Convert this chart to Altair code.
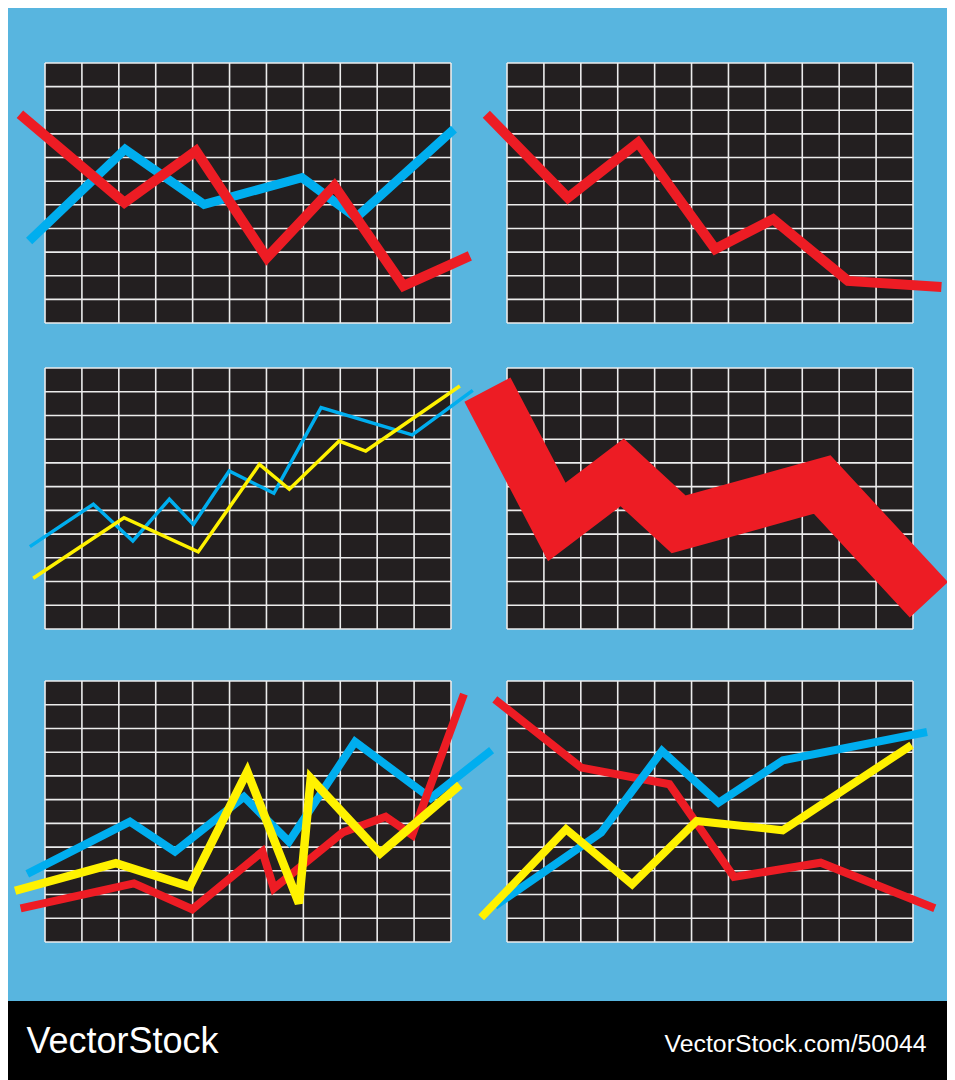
import altair as alt
import pandas as pd

BG = "#58b5df"
PANEL = "#231f20"
GRID = "#ececec"
RED = "#ed1c24"
BLUE = "#00aeef"
YELLOW = "#fff200"

grid_ticks = list(range(12))

# Panel 1 (top left)
p1_red_x = [-0.68, 2.15, 4.09, 6.01, 7.84, 9.71, 11.51]
p1_red_y = [8.83, 5.09, 7.28, 2.76, 5.80, 1.57, 2.84]
p1_blue_x = [-0.43, 2.17, 4.31, 6.96, 8.43, 11.08]
p1_blue_y = [3.47, 7.35, 5.02, 6.15, 4.46, 8.20]

# Panel 2 (top right)
p2_red_x = [-0.56, 1.65, 3.55, 5.64, 7.21, 9.24, 11.77]
p2_red_y = [8.83, 5.30, 7.63, 3.13, 4.39, 1.78, 1.52]

# Panel 3 (middle left)
p3_blue_x = [-0.41, 1.31, 2.38, 3.37, 4.02, 4.99, 6.20, 7.48, 9.95, 11.59]
p3_blue_y = [3.47, 5.26, 3.71, 5.47, 4.41, 6.66, 5.72, 9.33, 8.18, 10.06]
p3_yellow_x = [-0.32, 2.14, 4.15, 5.81, 6.62, 7.97, 8.69, 11.24]
p3_yellow_y = [2.14, 4.69, 3.25, 6.94, 5.89, 7.92, 7.50, 10.24]

# Panel 4 (middle right)
p4_red_x = [-0.53, 1.35, 3.12, 4.65, 8.54, 11.43]
p4_red_y = [10.09, 4.51, 6.60, 4.41, 6.09, 1.23]

# Panel 5 (bottom left)
p5_blue_x = [-0.48, 2.30, 3.52, 5.39, 6.61, 8.40, 10.45, 12.10]
p5_blue_y = [2.87, 5.07, 3.81, 6.12, 4.23, 8.44, 6.06, 8.09]
p5_red_x = [-0.66, 2.41, 3.99, 5.89, 6.20, 8.06, 9.23, 9.95, 11.35]
p5_red_y = [1.42, 2.47, 1.38, 3.81, 2.26, 4.61, 5.28, 4.51, 10.45]
p5_yellow_x = [-0.81, 1.92, 3.92, 5.48, 6.88, 7.20, 9.08, 11.24]
p5_yellow_y = [2.16, 3.32, 2.33, 7.18, 1.63, 6.90, 3.74, 6.62]

# Panel 6 (bottom right)
p6_red_x = [-0.33, 2.01, 4.40, 6.15, 8.50, 11.59]
p6_red_y = [10.23, 7.35, 6.65, 2.74, 3.34, 1.42]
p6_blue_x = [-0.33, 2.55, 4.20, 5.73, 7.48, 11.38]
p6_blue_y = [1.52, 4.61, 8.05, 5.87, 7.66, 8.85]
p6_yellow_x = [-0.70, 1.60, 3.39, 5.14, 7.47, 10.96]
p6_yellow_y = [1.03, 4.75, 2.43, 5.10, 4.71, 8.30]

footer_texts = ["VectorStock", "VectorStock.com/50044"]

SC = alt.Scale(domain=[0, 11], nice=False, zero=False)

# grid of cells: column widths and row heights (pixels)
COLS = [37, 406, 56, 406, 34]
ROWS = [260, 45, 261, 52, 261, 59, 80]


def spacer(w, h, fill=None):
    return alt.Chart(pd.DataFrame({"a": [0]})).mark_point(opacity=0, size=1).properties(
        width=w, height=h, view=alt.ViewBackground(stroke=None, fill=fill)
    )


def panel(w, h, series):
    gdf = pd.DataFrame({"g": grid_ticks})
    vgrid = alt.Chart(gdf).mark_rule(color=GRID, strokeWidth=1.6).encode(
        x=alt.X("g:Q", scale=SC, axis=None)
    )
    hgrid = alt.Chart(gdf).mark_rule(color=GRID, strokeWidth=1.6).encode(
        y=alt.Y("g:Q", scale=SC, axis=None)
    )
    layers = [vgrid, hgrid]
    for xs, ys, color, sw in series:
        df = pd.DataFrame({"x": xs, "y": ys, "i": list(range(len(xs)))})
        layers.append(
            alt.Chart(df)
            .mark_line(color=color, strokeWidth=sw, strokeCap="butt",
                       strokeJoin="miter", clip=False)
            .encode(
                x=alt.X("x:Q", scale=SC, axis=None),
                y=alt.Y("y:Q", scale=SC, axis=None),
                order="i:O",
            )
        )
    return alt.layer(*layers).properties(
        width=w, height=h, view=alt.ViewBackground(fill=PANEL, stroke=None)
    )


p1 = panel(COLS[1], ROWS[0], [(p1_blue_x, p1_blue_y, BLUE, 9), (p1_red_x, p1_red_y, RED, 10)])
p2 = panel(COLS[3], ROWS[0], [(p2_red_x, p2_red_y, RED, 10)])
p3 = panel(COLS[1], ROWS[2], [(p3_blue_x, p3_blue_y, BLUE, 3.5),
                              (p3_yellow_x, p3_yellow_y, YELLOW, 3.5)])
p4 = panel(COLS[3], ROWS[2], [(p4_red_x, p4_red_y, RED, 52)])
p5 = panel(COLS[1], ROWS[4], [(p5_blue_x, p5_blue_y, BLUE, 8), (p5_red_x, p5_red_y, RED, 8),
                              (p5_yellow_x, p5_yellow_y, YELLOW, 8.5)])
p6 = panel(COLS[3], ROWS[4], [(p6_red_x, p6_red_y, RED, 8), (p6_blue_x, p6_blue_y, BLUE, 8),
                              (p6_yellow_x, p6_yellow_y, YELLOW, 8)])


def panel_row(h, left, right):
    return [spacer(COLS[0], h), left, spacer(COLS[2], h), right, spacer(COLS[4], h)]


def gap_row(h):
    return [spacer(w, h) for w in COLS]


tdf = pd.DataFrame({"t": footer_texts})
FH = ROWS[6]
f_left = alt.layer(
    alt.Chart(tdf.iloc[[0]]).mark_text(
        color="white", font="Liberation Sans", fontSize=36, align="left",
        baseline="alphabetic", clip=False
    ).encode(text="t:N", x=alt.value(18.5 - COLS[0]), y=alt.value(51.7))
).properties(width=COLS[1], height=FH, view=alt.ViewBackground(fill="#000000", stroke=None))
f_right = alt.layer(
    alt.Chart(tdf.iloc[[1]]).mark_text(
        color="white", font="Liberation Sans", fontSize=24.8, align="right",
        baseline="alphabetic", clip=False
    ).encode(text="t:N", x=alt.value(918.5 - (939 - COLS[4])), y=alt.value(50.7))
).properties(width=COLS[4], height=FH, view=alt.ViewBackground(fill="#000000", stroke=None))
footer_row = [spacer(COLS[0], FH, "#000000"), f_left, spacer(COLS[2], FH, "#000000"),
              spacer(COLS[3], FH, "#000000"), f_right]

cells = (
    panel_row(ROWS[0], p1, p2)
    + gap_row(ROWS[1])
    + panel_row(ROWS[2], p3, p4)
    + gap_row(ROWS[3])
    + panel_row(ROWS[4], p5, p6)
    + gap_row(ROWS[5])
    + footer_row
)

# negative side padding cancels the conservative stroke bounds of the lines
# that run past the outer panels, so the page keeps its 939px width
chart = alt.concat(
    *cells, columns=5, spacing=0, bounds="flush", align="each"
).properties(
    padding={"top": 54, "left": -10, "right": -86, "bottom": 0},
    background=BG,
).configure_view(stroke=None)

chart.save("out.html", embed_options={"renderer": "svg", "actions": False})
